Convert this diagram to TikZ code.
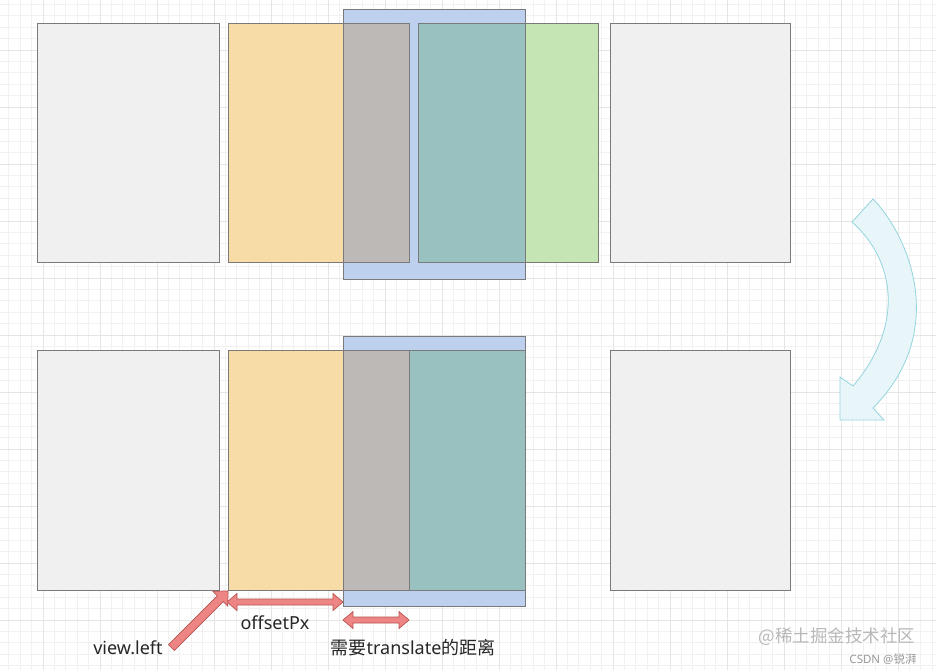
\documentclass[tikz,border=0pt]{standalone}
\usepackage{fontspec}
\setmainfont{Noto Sans}
\newfontfamily\cjk{Noto Sans CJK SC}
\definecolor{gridminor}{HTML}{F1F1F1}
\definecolor{gridmajor}{HTML}{E5E5E5}
\definecolor{boxline}{HTML}{7A7A7A}
\definecolor{boxgray}{HTML}{F0F0F0}
\definecolor{boxorange}{HTML}{F8DCA8}
\definecolor{boxgreen}{HTML}{C6E5B4}
\definecolor{boxblue}{HTML}{BDD0EE}
\definecolor{ovgray}{HTML}{BDB9B7}
\definecolor{ovteal}{HTML}{98C1BF}
\definecolor{redfill}{HTML}{EE8585}
\definecolor{redline}{HTML}{B85450}
\definecolor{cyfill}{HTML}{E8F6FA}
\definecolor{cyline}{HTML}{95D4DE}
\definecolor{txt}{HTML}{262626}
\tikzset{
  box/.style={rectangle, draw=boxline, line width=0.9pt, inner sep=0pt, outer sep=0pt, anchor=north west},
  redarrow/.style={fill=redfill, draw=redline, line width=0.7pt, line join=miter},
  lbl/.style={text=txt, inner sep=0pt, font=\fontsize{18}{20}\selectfont},
}
\newcommand\rbox[6]{\node[box, fill=#2, minimum width={#5-#3}, minimum height={#6-#4}] (#1) at (#3,#4) {};}
% horizontal double arrow: x1, x2, y
\newcommand\dimarrow[3]{%
  \begin{scope}[shift={(#1,#3)}]
    \draw[redarrow] (0,0) -- (10,-8.5) -- (10,-3) -- ({#2-#1-10},-3) -- ({#2-#1-10},-8.5) -- ({#2-#1},0)
      -- ({#2-#1-10},8.5) -- ({#2-#1-10},3) -- (10,3) -- (10,8.5) -- cycle;
  \end{scope}}
\begin{document}
\begin{tikzpicture}[x=1pt,y=-1pt]
\useasboundingbox (0,0) rectangle (936,670);
\fill[white] (0,0) rectangle (936,670);
% grid
\foreach \i in {-4,...,79} \draw[gridminor, line width=0.8pt] ({43+\i*11.4},0) -- ({43+\i*11.4},670);
\foreach \j in {-5,...,56} \draw[gridminor, line width=0.8pt] (0,{50+\j*11.4}) -- (936,{50+\j*11.4});
\foreach \k in {-1,...,16} \draw[gridmajor, line width=0.8pt] ({43+\k*57},0) -- ({43+\k*57},670);
\foreach \k in {-1,...,11} \draw[gridmajor, line width=0.8pt] (0,{50+\k*57}) -- (936,{50+\k*57});

% ---------- top row ----------
\rbox{ta}{boxgray}{37}{23}{219}{262}
\rbox{tv}{boxblue}{343}{9}{525}{279}
\rbox{tb}{boxorange}{228}{23}{409}{262}
\rbox{tc}{boxgreen}{418}{23}{598}{262}
\rbox{tbo}{ovgray}{343}{23}{409}{262}
\rbox{tco}{ovteal}{418}{23}{525}{262}
\rbox{td}{boxgray}{610}{23}{790}{262}

% ---------- bottom row ----------
\rbox{ba}{boxgray}{37}{350}{219}{590}
\rbox{bv}{boxblue}{343}{336}{525}{606}
\rbox{bb}{boxorange}{228}{350}{409}{590}
\rbox{bbo}{ovgray}{343}{350}{409}{590}
\rbox{bc}{ovteal}{409}{350}{525}{590}
\rbox{bd}{boxgray}{610}{350}{790}{590}

% ---------- curved arrow ----------
\draw[fill=cyfill, draw=cyline, line width=0.8pt, line join=miter]
  (873,199) .. controls (908,235) and (950,330) .. (873,408)
  -- (884,420) -- (840,420) -- (840,377) -- (853,386)
  .. controls (905,325) and (895,260) .. (852,222) -- cycle;

% ---------- dimension arrows ----------
\dimarrow{227}{343}{602}
\dimarrow{343}{409}{620}
\begin{scope}[shift={(171.5,647.5)}, rotate=45]
  \draw[redarrow] (0,-4.2) -- (69,-4.2) -- (69,-10.5) -- (80,0) -- (69,10.5) -- (69,4.2) -- (0,4.2) -- cycle;
\end{scope}

% ---------- labels ----------
\node[lbl] (lview) at (128,648) {view.left};
\node[lbl] (loff) at (275,623) {offsetPx};
\node[lbl] (ltr) at (413,648) {{\cjk 需要}translate{\cjk 的距离}};

% ---------- watermark ----------
\node[inner sep=0pt, text=black!28, font=\cjk\fontsize{17.5}{19}\selectfont] (wm1) at (837,637) {@稀土掘金技术社区};
\node[inner sep=0pt, text=black!40, font=\fontsize{11.5}{13}\selectfont] (wm2) at (883,659) {CSDN @{\cjk 锐湃}};
\end{tikzpicture}
\end{document}
